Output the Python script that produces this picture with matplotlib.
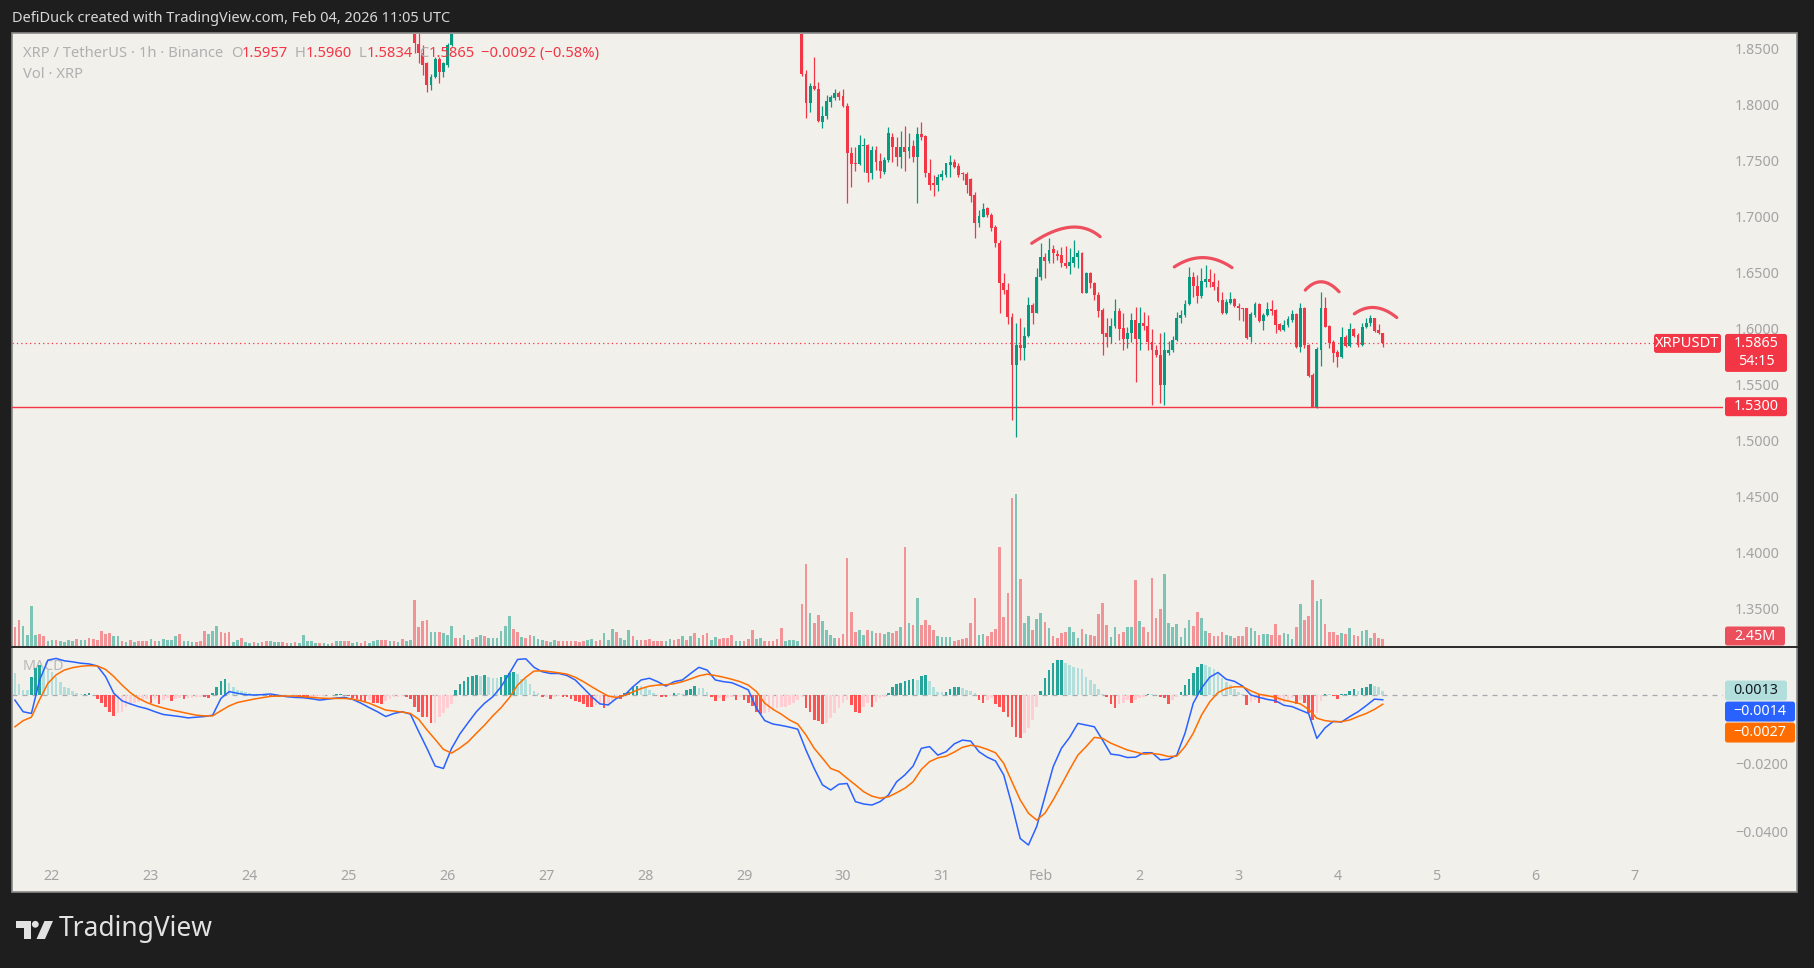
import numpy as np
import matplotlib
matplotlib.use("Agg")
import matplotlib.pyplot as plt
from matplotlib.patches import Rectangle, FancyBboxPatch, Polygon, Ellipse
from matplotlib.lines import Line2D
from matplotlib.transforms import blended_transform_factory, IdentityTransform

plt.rcParams['font.family'] = ['Noto Sans', 'DejaVu Sans']

# ======================= DATA =======================
# hour index: hours since Jan 22 00:00 UTC (1h candles)
first_hour = -9

volume_m = [
    6.7, 9.0, 7.0, 4.0, 13.7, 4.0, 4.2, 3.4, 2.0, 2.3,
    2.3, 1.7, 1.5, 2.3, 1.7, 2.6, 2.3, 2.3, 2.9, 2.6,
    2.3, 5.1, 4.2, 4.6, 3.5, 3.5, 2.0, 1.5, 2.2, 1.5,
    1.7, 1.7, 1.7, 2.6, 2.0, 1.7, 2.6, 2.2, 2.3, 3.6,
    4.2, 1.7, 1.7, 1.5, 1.5, 1.7, 5.3, 4.2, 5.3, 7.0,
    4.8, 4.5, 4.8, 1.5, 2.2, 2.9, 1.5, 1.2, 1.5, 1.3,
    1.5, 2.0, 1.7, 1.5, 1.5, 1.5, 1.2, 1.2, 1.5, 1.1,
    3.7, 1.7, 1.7, 1.1, 1.1, 1.1, 1.0, 1.2, 1.7, 2.0,
    1.8, 1.7, 1.1, 1.5, 1.1, 1.7, 1.3, 2.0, 2.3, 2.3,
    2.2, 2.0, 1.8, 1.5, 2.6, 2.0, 2.2, 15.6, 6.5, 8.7,
    9.0, 5.0, 5.0, 4.8, 4.6, 4.0, 7.0, 2.9, 2.8, 4.0,
    2.3, 2.6, 3.1, 3.7, 3.4, 2.9, 2.9, 2.9, 5.1, 7.0,
    10.1, 5.9, 5.0, 3.1, 2.9, 4.0, 3.4, 2.6, 2.2, 1.7,
    1.5, 2.2, 2.0, 2.0, 1.8, 1.8, 1.7, 1.5, 2.0, 2.2,
    2.6, 1.7, 2.3, 4.6, 2.3, 5.9, 5.0, 2.8, 2.3, 5.4,
    3.4, 2.3, 2.3, 2.3, 2.6, 1.7, 1.7, 1.7, 2.0, 2.6,
    2.3, 2.6, 3.5, 2.3, 3.4, 4.5, 2.9, 3.7, 4.6, 2.2,
    3.1, 2.6, 2.8, 2.9, 3.7, 2.0, 2.0, 2.0, 2.6, 5.6,
    2.6, 2.9, 2.0, 2.0, 1.8, 2.6, 6.3, 2.0, 2.3, 2.2,
    1.7, 14.3, 27.5, 11.3, 7.8, 10.7, 8.7, 5.6, 3.9, 3.0,
    2.7, 4.1, 29.6, 11.4, 4.9, 5.6, 3.9, 5.6, 5.2, 4.4,
    4.6, 4.1, 4.7, 4.4, 5.2, 6.4, 33.4, 7.8, 7.3, 16.1,
    7.3, 8.9, 7.3, 5.6, 3.6, 3.2, 3.2, 3.2, 1.9, 2.2,
    2.5, 2.8, 7.8, 16.1, 3.9, 4.1, 3.6, 5.0, 5.8, 33.4,
    9.9, 17.9, 49.7, 51.0, 22.6, 7.8, 10.3, 5.6, 9.3, 11.1,
    8.3, 6.1, 3.5, 3.0, 4.4, 5.0, 6.4, 5.0, 3.0, 5.8,
    4.1, 3.9, 3.6, 10.8, 14.5, 7.3, 3.2, 6.4, 4.1, 4.7,
    6.6, 6.6, 22.3, 8.6, 6.7, 4.7, 22.9, 9.5, 12.5, 24.2,
    7.8, 6.7, 7.5, 3.2, 6.1, 8.8, 6.9, 11.6, 9.7, 5.2,
    4.5, 3.6, 3.5, 4.8, 3.8, 3.5, 2.8, 3.5, 3.5, 6.5,
    6.1, 5.1, 3.8, 4.1, 4.1, 3.8, 7.5, 3.8, 4.5, 4.1,
    2.5, 6.5, 14.2, 8.8, 10.2, 22.2, 15.2, 15.9, 7.5, 4.8,
    4.8, 3.8, 4.5, 4.1, 6.1, 3.8, 3.5, 5.1, 5.5, 2.8,
    4.5, 2.8, 2.45,
]

# up/down of the hourly bars that lie above the visible price range (hours -9..181)
vol_dir_hidden = ("dduuuuddu" "uduuuuduud" "ddddduudud" "uddduduuuu" "uduuuddduu"
                  "uddduuduud" "udduuuddud" "uuuuuduudu" "udduudduuu" "ddududuudd"
                  "dduuduuudd" "uuduuduuuu" "uuddudduuu" "duuddddddd" "uudduuuduu"
                  "ududdddddu" "uddudududd" "uudddduudd" "duuddddduu" "uu")

cand_hours = list(range(88, 98)) + list(range(182, 324))
opens = [
    1.8720, 1.8539, 1.8461, 1.8366, 1.8173, 1.8241, 1.8402, 1.8292, 1.8351, 1.8530,
    1.8800, 1.8270, 1.8015, 1.8164, 1.8137, 1.7845, 1.7896, 1.8024, 1.8054, 1.8104,
    1.8074, 1.7985, 1.7563, 1.7479, 1.7467, 1.7628, 1.7637, 1.7390, 1.7592, 1.7497,
    1.7399, 1.7503, 1.7705, 1.7622, 1.7527, 1.7622, 1.7586, 1.7628, 1.7527, 1.7735,
    1.7717, 1.7390, 1.7295, 1.7280, 1.7348, 1.7369, 1.7458, 1.7488, 1.7449, 1.7384,
    1.7378, 1.7330, 1.7191, 1.6943, 1.6997, 1.7072, 1.7012, 1.6908, 1.6759, 1.6402,
    1.6342, 1.6098, 1.5673, 1.5851, 1.5821, 1.5931, 1.6208, 1.6140, 1.6461, 1.6634,
    1.6604, 1.6705, 1.6664, 1.6655, 1.6586, 1.6557, 1.6586, 1.6634, 1.6676, 1.6318,
    1.6497, 1.6402, 1.6298, 1.6164, 1.5955, 1.5920, 1.6021, 1.6158, 1.6000, 1.5902,
    1.5960, 1.6070, 1.5905, 1.6050, 1.6021, 1.5881, 1.5807, 1.5762, 1.5494, 1.5777,
    1.5807, 1.5896, 1.6089, 1.6119, 1.6217, 1.6461, 1.6378, 1.6289, 1.6416, 1.6437,
    1.6416, 1.6371, 1.6252, 1.6139, 1.6229, 1.6258, 1.6199, 1.6178, 1.6178, 1.5919,
    1.6118, 1.6217, 1.6068, 1.6118, 1.6169, 1.6163, 1.6038, 1.5984, 1.6029, 1.6074,
    1.6127, 1.5830, 1.6178, 1.5851, 1.5583, 1.5300, 1.5806, 1.6178, 1.6020, 1.5880,
    1.5791, 1.5746, 1.5925, 1.5842, 1.5990, 1.5940, 1.5851, 1.6008, 1.6044, 1.6089,
    1.5984, 1.5957,
]
highs = [
    1.8740, 1.8660, 1.8530, 1.8381, 1.8271, 1.8420, 1.8420, 1.8381, 1.8545, 1.8720,
    1.8830, 1.8306, 1.8188, 1.8426, 1.8202, 1.7985, 1.8083, 1.8083, 1.8134, 1.8122,
    1.8134, 1.8009, 1.7622, 1.7616, 1.7726, 1.7696, 1.7646, 1.7628, 1.7628, 1.7563,
    1.7533, 1.7801, 1.7747, 1.7711, 1.7765, 1.7806, 1.7747, 1.7682, 1.7801, 1.7845,
    1.7726, 1.7509, 1.7369, 1.7378, 1.7414, 1.7479, 1.7548, 1.7509, 1.7473, 1.7399,
    1.7399, 1.7339, 1.7220, 1.7057, 1.7122, 1.7087, 1.7027, 1.6923, 1.6789, 1.6491,
    1.6402, 1.6134, 1.6045, 1.6089, 1.6015, 1.6283, 1.6223, 1.6536, 1.6759, 1.6670,
    1.6804, 1.6744, 1.6699, 1.6729, 1.6735, 1.6714, 1.6789, 1.6699, 1.6685, 1.6506,
    1.6506, 1.6417, 1.6328, 1.6179, 1.6089, 1.6089, 1.6259, 1.6179, 1.6140, 1.6010,
    1.6140, 1.6193, 1.6188, 1.6149, 1.6119, 1.5997, 1.5851, 1.5955, 1.5970, 1.5890,
    1.5931, 1.6149, 1.6164, 1.6253, 1.6551, 1.6506, 1.6476, 1.6535, 1.6565, 1.6526,
    1.6496, 1.6431, 1.6327, 1.6258, 1.6327, 1.6267, 1.6223, 1.6184, 1.6184, 1.6148,
    1.6237, 1.6223, 1.6133, 1.6237, 1.6252, 1.6169, 1.6044, 1.6074, 1.6109, 1.6163,
    1.6133, 1.6223, 1.6193, 1.5860, 1.5598, 1.5836, 1.6327, 1.6282, 1.6029, 1.5895,
    1.5806, 1.6008, 1.5940, 1.6044, 1.5999, 1.5955, 1.6044, 1.6089, 1.6118, 1.6095,
    1.6038, 1.5960,
]
lows = [
    1.8461, 1.8372, 1.8262, 1.8113, 1.8128, 1.8232, 1.8194, 1.8241, 1.8336, 1.8524,
    1.8253, 1.7875, 1.7935, 1.8128, 1.7845, 1.7786, 1.7866, 1.7973, 1.8039, 1.8039,
    1.7973, 1.7116, 1.7265, 1.7408, 1.7462, 1.7399, 1.7310, 1.7330, 1.7414, 1.7339,
    1.7378, 1.7488, 1.7488, 1.7449, 1.7429, 1.7408, 1.7518, 1.7488, 1.7116, 1.7682,
    1.7348, 1.7235, 1.7182, 1.7229, 1.7324, 1.7354, 1.7348, 1.7429, 1.7354, 1.7324,
    1.7205, 1.7131, 1.6804, 1.6908, 1.6991, 1.6997, 1.6872, 1.6729, 1.6134, 1.6307,
    1.6039, 1.5182, 1.5033, 1.5717, 1.5717, 1.5926, 1.6039, 1.6134, 1.6432, 1.6446,
    1.6580, 1.6586, 1.6610, 1.6551, 1.6536, 1.6485, 1.6551, 1.6536, 1.6313, 1.6313,
    1.6357, 1.6253, 1.6104, 1.5762, 1.5830, 1.5872, 1.6000, 1.5896, 1.5806, 1.5821,
    1.5880, 1.5524, 1.5806, 1.5985, 1.5806, 1.5313, 1.5747, 1.5336, 1.5313, 1.5762,
    1.5792, 1.5890, 1.6051, 1.6104, 1.6208, 1.6283, 1.6229, 1.6267, 1.6371, 1.6371,
    1.6346, 1.6237, 1.6127, 1.6127, 1.6217, 1.6193, 1.6074, 1.6068, 1.5901, 1.5880,
    1.6098, 1.6059, 1.5984, 1.6112, 1.6118, 1.5955, 1.5979, 1.5979, 1.6014, 1.6059,
    1.5821, 1.5791, 1.5821, 1.5568, 1.5294, 1.5285, 1.5663, 1.6008, 1.5821, 1.5702,
    1.5657, 1.5732, 1.5836, 1.5836, 1.5919, 1.5830, 1.5842, 1.5999, 1.6020, 1.5970,
    1.5949, 1.5834,
]
closes = [
    1.8545, 1.8461, 1.8351, 1.8173, 1.8247, 1.8402, 1.8292, 1.8366, 1.8530, 1.8690,
    1.8268, 1.8015, 1.8164, 1.8134, 1.7848, 1.7896, 1.8033, 1.8063, 1.8098, 1.8068,
    1.7985, 1.7563, 1.7467, 1.7467, 1.7637, 1.7637, 1.7390, 1.7592, 1.7488, 1.7408,
    1.7503, 1.7741, 1.7616, 1.7527, 1.7622, 1.7578, 1.7622, 1.7527, 1.7735, 1.7705,
    1.7390, 1.7280, 1.7280, 1.7354, 1.7378, 1.7473, 1.7488, 1.7438, 1.7369, 1.7378,
    1.7280, 1.7182, 1.6943, 1.7003, 1.7063, 1.7012, 1.6893, 1.6759, 1.6402, 1.6342,
    1.6098, 1.5673, 1.5851, 1.5821, 1.5931, 1.6208, 1.6140, 1.6461, 1.6634, 1.6604,
    1.6699, 1.6670, 1.6646, 1.6580, 1.6557, 1.6595, 1.6640, 1.6670, 1.6318, 1.6497,
    1.6402, 1.6298, 1.6158, 1.5949, 1.5920, 1.6021, 1.6158, 1.5991, 1.5902, 1.5960,
    1.6070, 1.5905, 1.6045, 1.6021, 1.5881, 1.5807, 1.5762, 1.5494, 1.5807, 1.5807,
    1.5896, 1.6089, 1.6119, 1.6217, 1.6461, 1.6378, 1.6289, 1.6425, 1.6437, 1.6416,
    1.6371, 1.6246, 1.6139, 1.6237, 1.6258, 1.6199, 1.6178, 1.6169, 1.5910, 1.6127,
    1.6217, 1.6068, 1.6118, 1.6169, 1.6157, 1.6029, 1.5984, 1.6029, 1.6080, 1.6127,
    1.5830, 1.6178, 1.5851, 1.5574, 1.5300, 1.5812, 1.6178, 1.6014, 1.5865, 1.5782,
    1.5746, 1.5919, 1.5842, 1.5990, 1.5931, 1.5851, 1.6008, 1.6050, 1.6089, 1.5979,
    1.5955, 1.5865,
]

# MACD (12,26,9) line and signal, read every 2 hours starting at hour -9 (units of 0.001)
macd_step = 2
macd_milli = [
    -1.5, -4.9, -5.4, 4.4, 10.2, 10.7, 10.0, 9.7, 9.3, 9.1,
    8.5, 5.4, 0.5, -1.7, -2.6, -3.4, -4.0, -4.9, -5.7, -6.0,
    -6.3, -6.7, -6.5, -6.3, -5.9, -1.0, 1.0, 0.5, 0.1, 0.0,
    0.1, 0.3, -0.1, -0.5, -0.7, -0.8, -1.1, -1.5, -1.2, -0.9,
    -0.7, -1.3, -2.4, -3.7, -4.9, -6.3, -5.4, -4.9, -5.6, -10.7,
    -15.6, -20.8, -21.5, -15.6, -11.4, -8.1, -4.9, -2.4, -0.5, 2.4,
    6.3, 10.4, 10.6, 8.1, 6.8, 6.3, 6.3, 5.7, 4.4, 2.0,
    -0.5, -2.6, -2.9, -1.0, 0.0, 2.4, 4.4, 4.9, 3.9, 2.6,
    3.9, 4.4, 6.3, 8.1, 7.3, 4.4, 3.9, 3.6, 2.6, 1.5,
    -3.9, -7.5, -8.5, -8.9, -9.4, -10.0, -16.1, -21.5, -26.3, -27.8,
    -26.1, -25.9, -31.2, -31.9, -32.2, -31.2, -29.3, -25.4, -23.4, -20.8,
    -15.6, -15.1, -17.6, -16.6, -14.3, -13.2, -13.5, -16.6, -18.2, -19.3,
    -23.4, -32.2, -42.0, -43.9, -38.5, -29.8, -21.0, -15.6, -12.4, -8.3,
    -8.8, -9.3, -13.2, -17.3, -17.6, -18.3, -18.2, -16.9, -16.9, -19.0,
    -18.8, -17.6, -11.2, -2.4, 2.0, 5.2, 6.6, 4.6, 4.0, 2.6,
    0.0, -0.7, -1.3, -1.7, -3.0, -3.4, -4.4, -5.4, -12.7, -9.6,
    -7.7, -7.9, -6.3, -4.9, -3.1, -1.2, -1.4,
]
signal_milli = [
    -9.3, -7.5, -6.5, -1.3, 3.4, 5.9, 7.3, 8.0, 8.4, 8.6,
    8.5, 7.5, 5.4, 2.9, 0.7, -1.0, -2.2, -3.1, -3.8, -4.4,
    -4.9, -5.4, -5.9, -6.1, -6.1, -4.6, -3.2, -2.2, -1.7, -1.2,
    -0.8, -0.4, -0.3, -0.3, -0.3, -0.5, -0.7, -0.9, -1.0, -1.0,
    -1.0, -1.2, -1.7, -2.4, -3.4, -4.4, -4.7, -5.0, -5.4, -7.1,
    -10.2, -13.0, -15.9, -17.0, -15.5, -13.7, -11.2, -8.8, -6.1, -3.7,
    -0.8, 2.9, 5.2, 7.0, 7.1, 6.8, 6.5, 6.1, 5.2, 3.9,
    2.4, 1.0, -0.3, -0.7, -0.1, 0.9, 1.9, 2.6, 2.9, 3.0,
    3.3, 3.9, 4.7, 5.6, 6.1, 5.7, 5.2, 4.6, 3.9, 2.9,
    1.0, -2.4, -4.2, -5.6, -7.3, -8.5, -11.7, -15.6, -18.5, -21.5,
    -22.4, -24.4, -26.3, -28.3, -29.6, -30.2, -29.8, -28.6, -27.3, -25.4,
    -21.8, -19.5, -18.4, -17.9, -16.7, -15.3, -14.7, -15.1, -15.9, -16.9,
    -20.0, -25.4, -30.7, -34.6, -36.6, -34.6, -30.7, -26.3, -21.8, -17.6,
    -15.1, -12.4, -12.7, -14.1, -15.1, -16.1, -16.7, -17.3, -17.1, -17.4,
    -18.0, -17.9, -15.1, -11.2, -5.9, -2.0, 0.7, 1.9, 2.4, 2.4,
    1.2, 0.2, -0.2, -0.7, -1.5, -2.0, -2.6, -4.2, -6.8, -7.5,
    -7.8, -7.8, -7.3, -6.3, -5.4, -4.2, -2.7,
]
# MACD histogram, hourly from hour -9 (units of 0.001)
hist_milli = [
    6.5, 3.2, 1.5, 1.5, 5.4, 7.8, 8.8, 8.3, 7.3, 6.8,
    5.2, 3.9, 2.4, 2.0, 1.3, 0.7, 0.3, 0.4, 0.5, 0.0,
    -1.3, -2.2, -3.4, -5.1, -6.0, -5.4, -4.9, -3.4, -2.9, -2.4,
    -2.0, -1.5, -1.3, -2.2, -1.3, -2.6, -1.5, -1.0, -1.7, -1.3,
    -1.0, -1.3, -1.0, -1.0, -0.7, -0.5, -0.7, -1.0, 0.5, 2.4,
    4.2, 4.7, 3.4, 2.2, 1.5, 1.3, 0.9, 0.5, 0.3, 0.1,
    0.2, 0.3, -0.3, -0.4, -0.5, -0.5, -0.4, -0.4, -0.3, -0.5,
    -0.8, -1.0, -1.0, -0.7, -0.3, -0.2, -0.1, 0.1, 0.2, 0.3,
    0.1, -0.4, -0.9, -1.3, -1.7, -2.0, -1.5, -2.2, -2.4, -2.6,
    -1.7, -1.2, -0.7, -0.5, -0.3, -0.7, -1.2, -3.4, -4.9, -6.3,
    -6.5, -8.1, -8.1, -6.3, -5.4, -3.9, -2.6, 1.5, 3.2, 4.2,
    5.2, 5.6, 5.8, 5.7, 5.9, 5.2, 4.9, 4.9, 5.4, 5.9,
    6.3, 6.7, 6.1, 4.6, 4.6, 3.2, 1.3, 0.5, -0.7, -0.7,
    -1.1, -0.5, -0.3, -0.5, -0.7, -1.1, -1.9, -2.0, -2.6, -3.4,
    -3.6, -3.0, -2.8, -3.9, -3.2, -1.7, -0.7, -1.2, 0.5, 1.0,
    2.4, 2.6, 2.6, 2.2, 1.5, 0.7, 0.0, -0.5, -0.7, -0.3,
    0.7, 0.7, 0.3, 1.5, 1.9, 2.6, 2.1, 2.1, 1.0, -0.7,
    -1.8, -1.0, -1.7, -1.0, -0.5, -1.5, -0.5, -1.5, -2.2, -3.2,
    -4.9, -5.6, -5.4, -4.9, -4.4, -3.9, -3.4, -3.4, -2.9, -2.4,
    -1.5, -0.7, -3.9, -4.9, -7.3, -7.5, -8.5, -8.3, -6.8, -5.4,
    -3.9, -2.2, -1.5, -2.9, -4.9, -5.4, -3.4, -2.2, -3.4, -2.0,
    -1.0, -0.5, 0.5, 2.2, 3.2, 3.6, 4.0, 4.4, 4.8, 4.4,
    5.6, 5.9, 4.2, 2.2, 0.9, 0.8, 0.9, 1.7, 2.2, 2.4,
    2.0, 1.6, 1.2, 0.5, -1.5, -2.4, -1.5, -1.0, -2.6, -3.4,
    -4.9, -6.3, -9.3, -12.4, -12.6, -11.2, -9.8, -7.3, -3.6, 1.3,
    4.9, 7.3, 9.5, 10.2, 10.3, 9.5, 8.8, 8.3, 7.8, 7.5,
    5.2, 4.4, 3.2, 1.7, 0.3, -0.5, -2.6, -3.9, -2.6, -2.2,
    -1.6, -2.4, -1.5, -1.0, -0.7, 0.4, 0.3, 0.0, -0.5, -1.0,
    -2.6, -1.6, -0.7, 1.0, 2.9, 4.6, 6.3, 8.1, 9.1, 8.7,
    8.3, 7.5, 6.0, 5.0, 3.8, 2.8, 1.9, 1.0, 0.2, -2.9,
    -2.0, -1.6, -2.2, -1.0, -0.7, -0.5, -2.2, -2.2, -2.2, -1.5,
    -1.0, -2.6, -1.5, -2.2, -5.4, -7.3, -5.4, -1.7, 0.2, 0.2,
    -0.3, -1.1, 0.2, 0.3, 1.3, 1.7, 1.3, 2.1, 2.4, 3.2,
    2.7, 2.2, 1.3,
]

day_hours = [0, 24, 48, 72, 96, 120, 144, 168, 192, 216, 240, 264, 288, 312, 336, 360, 384]
day_labels = ['22', '23', '24', '25', '26', '27', '28', '29', '30', '31',
              'Feb', '2', '3', '4', '5', '6', '7']
price_ticks = [1.35, 1.40, 1.45, 1.50, 1.55, 1.60, 1.65, 1.70, 1.75, 1.80, 1.85]
macd_ticks = [-0.04, -0.02]
support_level = 1.53
last_price = 1.5865
countdown = '54:15'
last_volume_label = '2.45M'
last_macd, last_signal, last_hist = -0.0014, -0.0027, 0.0013

# hand-drawn arcs over the swing highs: (start hour, top hour, end hour) and matching prices
arc_hours = [(237.8, 247.1, 254.4), (272.4, 279.4, 286.4), (304.2, 308.2, 312.4), (316.1, 321.1, 326.4)]
arc_prices = [(1.6759, 1.6902, 1.6818), (1.6548, 1.6631, 1.6542), (1.6341, 1.6415, 1.6326), (1.6129, 1.6185, 1.6096)]

# ======================= STYLE / LAYOUT =======================
W, H = 1814, 968
BG_DARK = '#1e1e1e'
PANEL = '#f2f0eb'
TEAL = '#089981'
RED = '#f23645'
VOL_UP = '#7dc4b7'
VOL_DN = '#f29398'
LABEL_GREY = '#a3a3a3'

PX0, PX1 = 11.6, 1797.0     # panel left/right (px)
PY0, PY1 = 33.5, 892.0      # panel top/bottom (px)
PLOT_R = 1723.0             # right edge of the plotting area
SEP = 646.5                 # separator between price pane and MACD pane

X0_PX, PX_PER_H = 52.0, 4.12          # x pixel of Jan 22 00:00, px per hour
P_REF_Y, P_REF, PX_PER_P = 48.3, 1.85, 1120.0
M_ZERO_Y, PX_PER_M = 695.0, 3417.0
VOL_PX_PER_M = 1 / 0.335


def fx(x):
    return x / W


def fy(y):
    return 1 - y / H


def hour_at(xpx):
    return (xpx - X0_PX) / PX_PER_H


def price_at(ypx):
    return P_REF - (ypx - P_REF_Y) / PX_PER_P


def macd_at(ypx):
    return (M_ZERO_Y - ypx) / PX_PER_M


fig = plt.figure(figsize=(W / 100, H / 100), dpi=100)
fig.patch.set_facecolor(BG_DARK)
fig.patches.append(Rectangle((fx(PX0), fy(PY1)), fx(PX1) - fx(PX0), fy(PY0) - fy(PY1),
                             transform=fig.transFigure, facecolor=PANEL, edgecolor='#8a8a8a',
                             lw=1.2, zorder=-10))

rect_main = [fx(PX0), fy(SEP), fx(PLOT_R) - fx(PX0), fy(PY0) - fy(SEP)]
ax_vol = fig.add_axes(rect_main)
ax = fig.add_axes(rect_main)
ax_m = fig.add_axes([fx(PX0), fy(PY1), fx(PLOT_R) - fx(PX0), fy(SEP) - fy(PY1)])
for a in (ax_vol, ax, ax_m):
    a.set_facecolor('none')
    for s in a.spines.values():
        s.set_visible(False)

xlim = (hour_at(PX0), hour_at(PLOT_R))

# ---------- volume ----------
vol = np.array(volume_m)
vol_h = first_hour + np.arange(len(vol))
cand_up = {h: (c >= o) for h, o, c in zip(cand_hours, opens, closes)}
vcols = []
for i, h in enumerate(vol_h):
    if h in cand_up:
        up = cand_up[h]
    else:
        up = (vol_dir_hidden[i] == 'u') if i < len(vol_dir_hidden) else True
    vcols.append(VOL_UP if up else VOL_DN)
ax_vol.bar(vol_h, vol, width=0.65, color=vcols, linewidth=0)
ax_vol.set_xlim(*xlim)
ax_vol.set_ylim(0, (SEP - PY0) / VOL_PX_PER_M)
ax_vol.set_xticks([])
ax_vol.set_yticks([])

# ---------- candles ----------
O = np.array(opens); Hh = np.array(highs); L = np.array(lows); C = np.array(closes)
ch = np.array(cand_hours)
ccol = np.where(C >= O, TEAL, RED)
ax.vlines(ch, L, Hh, colors=ccol, lw=0.9, zorder=3)
ax.bar(ch, np.maximum(np.abs(C - O), 0.0009), bottom=np.minimum(O, C), width=0.7,
       color=ccol, linewidth=0, zorder=4)

ax.axhline(support_level, color=RED, lw=1.0, zorder=2)
ax.axhline(last_price, color=RED, lw=0.9, ls=(0, (1, 2.5)), zorder=2)

for (h0, h1, h2), (p0, p1, p2) in zip(arc_hours, arc_prices):
    # quadratic curve passing through the three sketched points
    c_h = 2 * h1 - (h0 + h2) / 2
    c_p = 2 * p1 - (p0 + p2) / 2
    t = np.linspace(0, 1, 60)
    bh = (1 - t) ** 2 * h0 + 2 * (1 - t) * t * c_h + t ** 2 * h2
    bp = (1 - t) ** 2 * p0 + 2 * (1 - t) * t * c_p + t ** 2 * p2
    ax.plot(bh, bp, color='#ee4f5e', lw=2.3, solid_capstyle='round', zorder=6)

ax.set_xlim(*xlim)
ax.set_ylim(price_at(SEP), price_at(PY0))
ax.set_xticks([])
ax.yaxis.tick_right()
ax.set_yticks(price_ticks)
ax.set_yticklabels([f'{t:.4f}' for t in price_ticks])
ax.tick_params(axis='y', length=0, pad=8.6, labelsize=10.3, labelcolor=LABEL_GREY)

# ---------- MACD ----------
hist = np.array(hist_milli) / 1000.0
hh = first_hour + np.arange(len(hist))
hcols = []
for i, v in enumerate(hist):
    prev = hist[i - 1] if i > 0 else v
    if v >= 0:
        hcols.append('#26a69a' if v > prev else '#b2dfdb')
    else:
        hcols.append('#ff5252' if v < prev else '#ffcdd2')
ax_m.axhline(0, color='#9598a1', lw=0.9, ls=(0, (4, 4)), alpha=0.8, zorder=0.5)
ax_m.bar(hh, hist, width=0.65, color=hcols, linewidth=0, zorder=1)
mh = first_hour + macd_step * np.arange(len(macd_milli))
sh = first_hour + macd_step * np.arange(len(signal_milli))
ax_m.plot(mh, np.array(macd_milli) / 1000.0, color='#2962ff', lw=1.1, zorder=3)
ax_m.plot(sh, np.array(signal_milli) / 1000.0, color='#ff6d00', lw=1.1, zorder=3)
ax_m.set_xlim(*xlim)
ax_m.set_ylim(macd_at(PY1), macd_at(SEP))
ax_m.set_xticks([])
ax_m.yaxis.tick_right()
ax_m.set_yticks(macd_ticks)
ax_m.set_yticklabels(['\u2212' + f'{abs(t):.4f}' for t in macd_ticks])
ax_m.tick_params(axis='y', length=0, pad=8.6, labelsize=10.3, labelcolor=LABEL_GREY)
ax_m.text((23 - PX0) / (PLOT_R - PX0), (PY1 - 666) / (PY1 - SEP), 'MACD', transform=ax_m.transAxes,
          fontsize=10.3, color='#b0b0b0', alpha=0.9, ha='left', va='center', zorder=0.2)

# time axis labels
tr = blended_transform_factory(ax_m.transData, ax_m.transAxes)
for h, lab in zip(day_hours, day_labels):
    ax_m.text(h, (PY1 - 876) / (PY1 - SEP), lab, transform=tr, ha='center', va='center',
              fontsize=10.3, color=LABEL_GREY, clip_on=False)

# separator line between panes
fig.add_artist(Line2D([fx(PX0), fx(PX1)], [fy(SEP), fy(SEP)], transform=fig.transFigure,
                      color='#2a2a2a', lw=1.4, zorder=8))

# ---------- price-scale labels ----------
idt = IdentityTransform()


def disp_y(a, v):
    return a.transData.transform((0, v))[1]


def box(x0, x1, ytop, ybot, fc, z=9):
    p = FancyBboxPatch((x0, ybot), x1 - x0, ytop - ybot,
                       boxstyle='round,pad=0,rounding_size=2.5', transform=idt,
                       facecolor=fc, edgecolor='none', zorder=z)
    fig.add_artist(p)


def label(x, y, s, color, size=10.3, ha='center', z=10):
    fig.text(x / W, y / H, s, color=color, fontsize=size, ha=ha, va='center', zorder=z)


yb = disp_y(ax, last_price)
box(1725, 1787, yb + 9.5, yb - 28.5, RED)
label(1756, yb, f'{last_price:.4f}', 'white')
label(1756, yb - 18.5, countdown, 'white')
box(1654, 1721, yb + 9.5, yb - 9.5, RED)
label(1687.5, yb, 'XRPUSDT', 'white', size=10.6)

yb = disp_y(ax, support_level)
box(1725, 1787, yb + 9.5, yb - 9.5, RED)
label(1756, yb, f'{support_level:.4f}', 'white')

yb = max(disp_y(ax_vol, 2.45), (H - SEP) + 10.5)
box(1725, 1785, yb + 9.5, yb - 9.5, '#eb4f5c')
label(1755, yb, last_volume_label, 'white')

macd_boxes = [(last_hist, '#b2dfdb', '#131722', 1787), (last_macd, '#2962ff', 'white', 1795),
              (last_signal, '#ff6d00', 'white', 1795)]
prev_y = None
for v, fc, tc, xr in macd_boxes:
    y = disp_y(ax_m, v)
    if prev_y is not None and y > prev_y - 21:
        y = prev_y - 21
    prev_y = y
    box(1725, xr, y + 10, y - 10, fc)
    txt = ('\u2212' if v < 0 else '') + f'{abs(v):.4f}'
    label((1725 + xr) / 2, y, txt, tc)

# ---------- header texts ----------
renderer = fig.canvas.get_renderer()


def fit_pieces(x0, yc, x1, pieces, base=10.0, weight='normal', z=12):
    total = 0.0
    for s, c, g in pieces:
        t = fig.text(0, 0, s, fontsize=base, weight=weight)
        total += t.get_window_extent(renderer).width + g * base * 100 / 72
        t.remove()
    size = base * (x1 - x0) / total
    x = x0
    for s, c, g in pieces:
        t = fig.text(x / W, 1 - yc / H, s, fontsize=size, color=c, ha='left', va='center',
                     weight=weight, zorder=z)
        x += t.get_window_extent(renderer).width + g * size * 100 / 72
    return size


fit_pieces(11.6, 18.5, 451, [('DefiDuck created with TradingView.com, Feb 04, 2026 11:05 UTC', '#d8d8d8', 0)])

LG = '#b0b0b0'
legend_size = fit_pieces(23, 53.2, 598, [
    ('XRP / TetherUS \u00b7 1h \u00b7 Binance', LG, 0.5),
    ('O', LG, 0), (f'{opens[-1]:.4f}', RED, 0.45),
    ('H', LG, 0), (f'{highs[-1]:.4f}', RED, 0.45),
    ('L', LG, 0), (f'{lows[-1]:.4f}', RED, 0.45),
    ('C', LG, 0), (f'{closes[-1]:.4f}', RED, 0.45),
    ('\u22120.0092 (\u22120.58%)', RED, 0),
])
fig.text(23 / W, 1 - 74 / H, 'Vol \u00b7 XRP', fontsize=legend_size, color=LG, ha='left', va='center',
         zorder=12)

# ---------- TradingView logo ----------
LOGO = '#e2e2e2'


def P(pts):
    return [(fx(x), fy(y)) for x, y in pts]


fig.add_artist(Polygon(P([(15.5, 921), (31, 921), (31, 939), (23.5, 939), (23.5, 927.5), (15.5, 927.5)]),
                       closed=True, transform=fig.transFigure, facecolor=LOGO, edgecolor='none'))
fig.add_artist(Ellipse((fx(35.3), fy(924.3)), 6.8 / W, 6.8 / H, transform=fig.transFigure,
                       facecolor=LOGO, edgecolor='none'))
fig.add_artist(Polygon(P([(44.5, 921), (53, 921), (45, 939), (36.5, 939)]), closed=True,
                       transform=fig.transFigure, facecolor=LOGO, edgecolor='none'))
fit_pieces(59, 929, 213, [('TradingView', LOGO, 0)], weight='bold')

fig.savefig('out.png', dpi=100, facecolor=fig.get_facecolor())
